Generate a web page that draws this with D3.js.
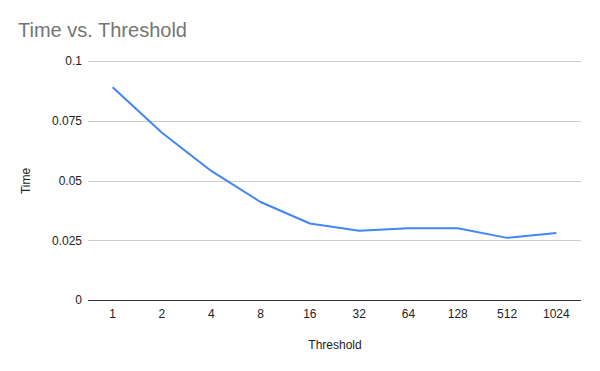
<!DOCTYPE html>
<html><head><meta charset="utf-8">
<script src="https://cdn.jsdelivr.net/npm/d3@7"></script>
<style>body{margin:0;background:#fff}svg{display:block;font-family:"Liberation Sans",Arial,sans-serif}</style>
</head><body><svg id="c" width="600" height="371"></svg>
<script>
const categories = ["1","2","4","8","16","32","64","128","512","1024"];
const times = [0.089,0.070,0.054,0.041,0.032,0.029,0.030,0.030,0.026,0.028];
const yTicks = [0,0.025,0.05,0.075,0.1];
const yTickLabels = ["0","0.025","0.05","0.075","0.1"];

const svg = d3.select("#c");
const m = {l:88, r:581, t:61, b:300};
const x = d3.scaleBand().domain(categories).range([m.l, m.r]);
const y = d3.scaleLinear().domain([0,0.1]).range([m.b, m.t]);

svg.append("rect").attr("width",600).attr("height",371).attr("fill","#fff");

const grid = svg.append("g");
grid.selectAll("line").data(yTicks.slice(1)).join("line")
  .attr("x1",m.l).attr("x2",m.r)
  .attr("y1",d=>Math.round(y(d))+0.5).attr("y2",d=>Math.round(y(d))+0.5)
  .attr("stroke","#cccccc").attr("stroke-width",1);

const yAxis = d3.axisLeft(y).tickValues(yTicks).tickFormat((d,i)=>yTickLabels[i]).tickSize(0).tickPadding(6);
const ya = svg.append("g").attr("transform",`translate(${m.l},0)`).call(yAxis);
ya.select(".domain").remove();
ya.selectAll("text").attr("font-size",12).attr("fill","#222").attr("font-family","Liberation Sans, Arial, sans-serif");

svg.append("line").attr("x1",m.l).attr("x2",m.r).attr("y1",m.b+0.5).attr("y2",m.b+0.5)
  .attr("stroke","#333").attr("stroke-width",1);

const xAxis = d3.axisBottom(x).tickSize(0).tickPadding(9);
const xa = svg.append("g").attr("transform",`translate(0,${m.b})`).call(xAxis);
xa.select(".domain").remove();
xa.selectAll("text").attr("font-size",12).attr("fill","#222").attr("font-family","Liberation Sans, Arial, sans-serif");

const line = d3.line().x((d,i)=>x(categories[i])+x.bandwidth()/2).y(d=>y(d));
svg.append("path").datum(times).attr("d",line).attr("fill","none")
  .attr("stroke","#4285f4").attr("stroke-width",2).attr("stroke-linejoin","round");

svg.append("text").attr("x",18).attr("y",37).attr("font-size",20).attr("fill","#757575").text("Time vs. Threshold");
svg.append("text").attr("x",335).attr("y",349).attr("text-anchor","middle").attr("font-size",12).attr("fill","#222").text("Threshold");
svg.append("text").attr("transform","translate(30,181) rotate(-90)").attr("text-anchor","middle").attr("font-size",12).attr("fill","#222").text("Time");
</script></body></html>
